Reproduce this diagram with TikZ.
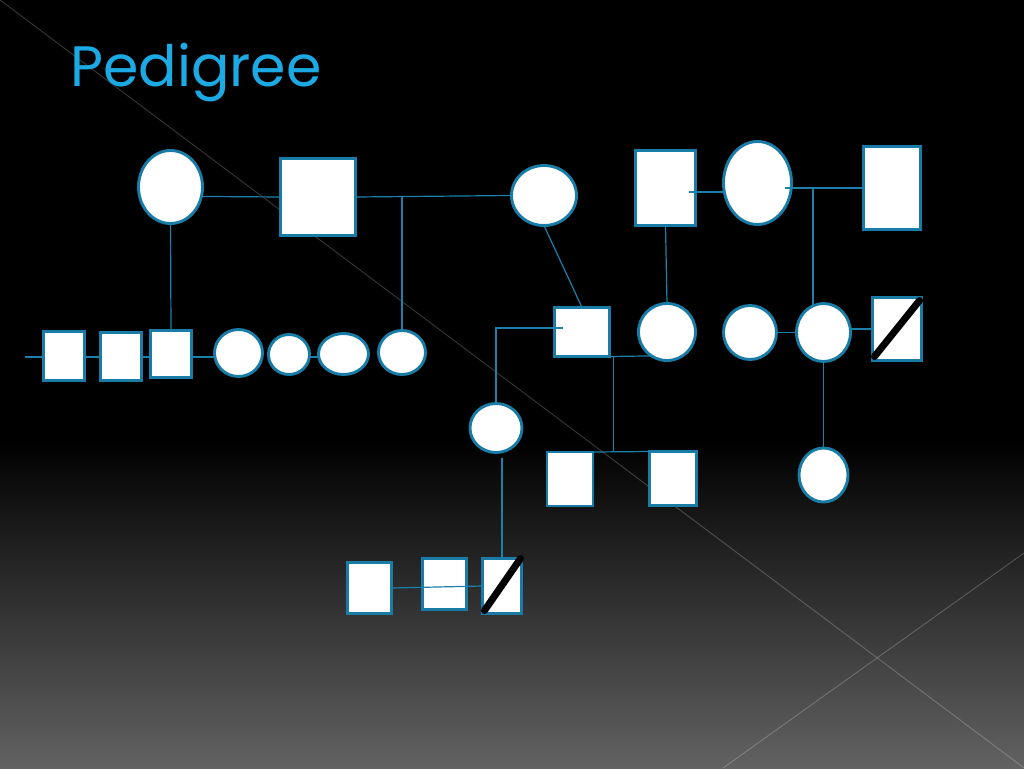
\documentclass[tikz,border=0pt]{standalone}
\usepackage{fontspec}
\newfontfamily\titlefont{Poppins}
\usetikzlibrary{shapes.geometric,calc}
\definecolor{nodeblue}{RGB}{24,124,166}
\definecolor{linkblue}{RGB}{28,128,170}
\definecolor{titleblue}{RGB}{28,170,228}
\definecolor{bggray}{RGB}{98,98,98}
\pgfdeclareverticalshading{bgshade}{100bp}{color(0bp)=(bggray); color(25bp)=(bggray); color(46.4bp)=(black); color(100bp)=(black)}
\tikzset{
  person/.style={draw=nodeblue, line width=2.9pt, fill=white, inner sep=0pt, outer sep=0pt},
  pbox/.style n args={2}{person, rectangle, minimum width=#1pt, minimum height=#2pt},
  pell/.style n args={2}{person, ellipse, minimum width=#1pt, minimum height=#2pt},
  link/.style={draw=linkblue, line width=1.2pt},
  slash/.style={draw=black, line width=7pt, line cap=round},
  deco/.style={draw=white, draw opacity=0.2, line width=1pt}
}
\begin{document}
\begin{tikzpicture}[x=1pt,y=-1pt]
\useasboundingbox (0,0) rectangle (1024,768);
\clip (0,0) rectangle (1024,768);
\shade[shading=bgshade] (0,0) rectangle (1024,768);
% decorative lines
\coordinate (d1a) at (0,0);
\coordinate (d1b) at (1024,768);
\coordinate (d2a) at (1024,553);
\coordinate (d2b) at (723,768);
\draw[deco] (d1a) -- (d1b);
\draw[deco] (d2a) -- (d2b);
% title
\node[anchor=base west, inner sep=0pt, text=titleblue, font=\titlefont\fontsize{57}{60}\selectfont] (title) at (70,86) {Pedigree};
% generation I
\node[pell={64}{73}] (A) at (170.5,187) {};
\node[pbox={75}{77}] (B) at (318,197) {};
\node[pell={65}{60}] (C) at (544,195.5) {};
\node[pbox={60}{75}] (D) at (665.5,188) {};
\node[pell={68}{83}] (E) at (757.5,183) {};
\node[pbox={57}{83}] (F) at (892,188) {};
% generation II, left
\node[pbox={41}{49}] (s1) at (64,356) {};
\node[pbox={41}{48}] (s2) at (121,356.5) {};
\node[pbox={41}{47}] (s3) at (171,354) {};
\node[pell={48}{47}] (c1) at (238.5,353) {};
\node[pell={41}{40}] (c2) at (289,354.5) {};
\node[pell={50}{41}] (c3) at (343.5,354) {};
\node[pell={47}{44}] (c4) at (402,352.5) {};
% generation II, right
\node[pbox={55}{49}] (G) at (582,332) {};
\node[pell={57}{57}] (H) at (667,332) {};
\node[pell={53}{54}] (I) at (750,332.5) {};
\node[pell={54}{58}] (J) at (823.5,332.5) {};
\node[pbox={49}{63}] (L) at (897,329) {};
% generation III
\node[pell={52}{49}] (K) at (496,428) {};
\node[pbox={46}{54}] (M) at (570,479) {};
\node[pbox={47}{54}] (N) at (673,478.5) {};
\node[pell={49}{54}] (O) at (823.5,475) {};
% generation IV
\node[pbox={44}{51}] (P) at (369.5,588) {};
\node[pbox={44}{51}] (Q) at (444.5,583.7) {};
\node[pbox={39}{55}] (R) at (502,586) {};
% connectors
\draw[link] (A.-17) -- (B.west);
\draw[link] (B.east) -- (C.west);
\draw[link] (c4.north |- B.east) -- (c4.north);
\draw[link] (A.south) -- (s3.north);
\coordinate (lend) at (25,357);
\draw[link] (lend) -- (s1.west |- lend) (s1.east |- lend) -- (s2.west |- lend)
  (s2.east |- lend) -- (s3.west |- lend) (s3.east |- lend) -- (c1.west |- lend)
  (c2.east |- lend) -- (c3.west |- lend);
\draw[link] (C.south) -- (G.north);
\draw[link] ($(G.center)+(-19,-4)$) -| (K.north);
\draw[link] (D.south) -- (H.north);
\draw[link] (G.south east) -- (H.-123);
\coordinate (gh) at ($(G.south east)+(4,0)$);
\draw[link] (gh) -- (gh |- M.north);
\draw[link] (M.north east) -- (N.north west);
\coordinate (de) at ($(D.east)+(-7,4)$);
\draw[link] (de) -- (de -| E.west);
\coordinate (ef) at ($(E.east)+(-6.5,5)$);
\draw[link] (ef) -- (ef -| F.west);
\coordinate (jt) at ($(J.north)+(-10.5,1.5)$);
\draw[link] (jt |- ef) -- (jt);
\draw[link] (I.east) -- (J.west);
\draw[link] (L.west -| J.east) -- (L.west);
\draw[link] (J.south) -- (O.north);
\coordinate (kr) at ($(K.south)+(6,5)$);
\draw[link] (kr) -- (kr |- R.north);
\draw[link] (P.east) -- (R.west);
% deceased marks
\draw[slash] ($(L.south west)+(2,-4)$) -- ($(L.north east)+(-2,3)$);
\draw[slash] ($(R.south west)+(2,-3)$) -- ($(R.north east)+(-1,0)$);
\end{tikzpicture}
\end{document}
